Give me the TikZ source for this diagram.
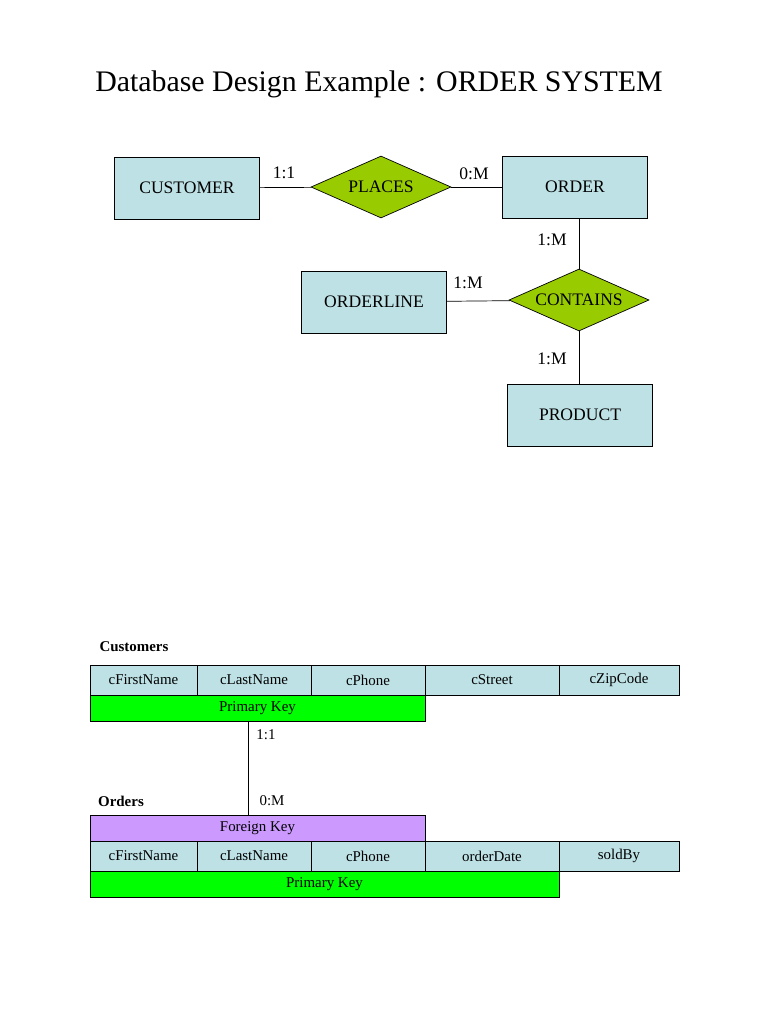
\documentclass[tikz,border=0pt]{standalone}
\usepackage{fontspec}
\setmainfont{Liberation Serif}
\usetikzlibrary{shapes.geometric}
\definecolor{boxcyan}{HTML}{BDE1E5}
\definecolor{relgreen}{HTML}{99CC00}
\definecolor{keygreen}{HTML}{00FF00}
\definecolor{fkpurple}{HTML}{CC99FF}
\tikzset{%
  entity/.style   = {draw, thin, rectangle, fill=boxcyan, minimum width=2.9cm,
    minimum height=1.24cm, font=\fontsize{10}{12}\selectfont},
  relation/.style = {draw, thin, diamond, aspect=2.25, fill=relgreen, inner sep=1pt,
    minimum width=2.8cm, minimum height=1.24cm, font=\fontsize{10}{12}\selectfont},
  card/.style     = {font=\fontsize{10}{12}\selectfont}, % cardinality
  cell/.style     = {draw, thin, rectangle, fill=boxcyan, minimum height=0.6cm,
    inner sep=0pt, font=\fontsize{8.5}{10}\selectfont},
  key/.style      = {cell, fill=keygreen},
  fkey/.style     = {cell, fill=fkpurple},
  tname/.style    = {font=\fontsize{8.5}{10}\selectfont\bfseries}
}
\begin{document}
\begin{tikzpicture}[x=0.02cm, y=-0.02cm, thin]
\useasboundingbox (0,0) rectangle (768,1024);
\node at (379,84) [name=title, font=\fontsize{17}{20}\selectfont]{Database Design Example : ORDER SYSTEM};
% ER diagram
\draw
	node at (187,188)[entity, name=customer]{CUSTOMER}
	node at (381,187)[relation, name=places]{PLACES}
	node at (575,187)[entity, name=order]{ORDER}
	node at (374,302)[entity, name=orderline]{ORDERLINE}
	node at (579,300)[relation, name=contains]{CONTAINS}
	node at (580,415)[entity, name=product]{PRODUCT};
\draw (customer) -- (places);
\draw (places) -- (order);
\draw (order.south -| contains) -- (contains.north);
\draw (orderline) -- (contains);
\draw (contains.south) -- (product.north -| contains);
\node at (284,173)[card, name=c1]{1:1};
\node at (474,174)[card, name=c2]{0:M};
\node at (552,240)[card, name=c3]{1:M};
\node at (468,283)[card, name=c4]{1:M};
\node at (552,359)[card, name=c5]{1:M};
% tables
\node at (134,647)[tname, name=tcust]{Customers};
\node at (121,801)[tname, name=tord]{Orders};
\foreach \name/\xa/\xb [count=\i] in {cFirstName/90/197, cLastName/197/311, cPhone/311/425, cStreet/425/559, cZipCode/559/679}
	\node at ({(\xa+\xb)/2},680)[cell, minimum width={(\xb-\xa)*0.02cm}, name=cc\i]{\name};
\foreach \name/\xa/\xb [count=\i] in {cFirstName/90/197, cLastName/197/311, cPhone/311/425, orderDate/425/559, soldBy/559/679}
	\node at ({(\xa+\xb)/2},856)[cell, minimum width={(\xb-\xa)*0.02cm}, name=oc\i]{\name};
\node at (257.5,708)[key, minimum width=6.7cm, minimum height=0.52cm, name=custpk]{Primary Key};
\node at (257.5,828)[fkey, minimum width=6.7cm, minimum height=0.52cm, name=ordfk]{Foreign Key};
\node at (324.5,884)[key, minimum width=9.38cm, minimum height=0.52cm, name=ordpk]{Primary Key};
\coordinate (pkfoot) at (248,721);
\draw (pkfoot) -- (pkfoot |- ordfk.north);
\node at (266,735)[card, font=\fontsize{8.5}{10}\selectfont, name=t1]{1:1};
\node at (272,801)[card, font=\fontsize{8.5}{10}\selectfont, name=t2]{0:M};
\end{tikzpicture}
\end{document}
